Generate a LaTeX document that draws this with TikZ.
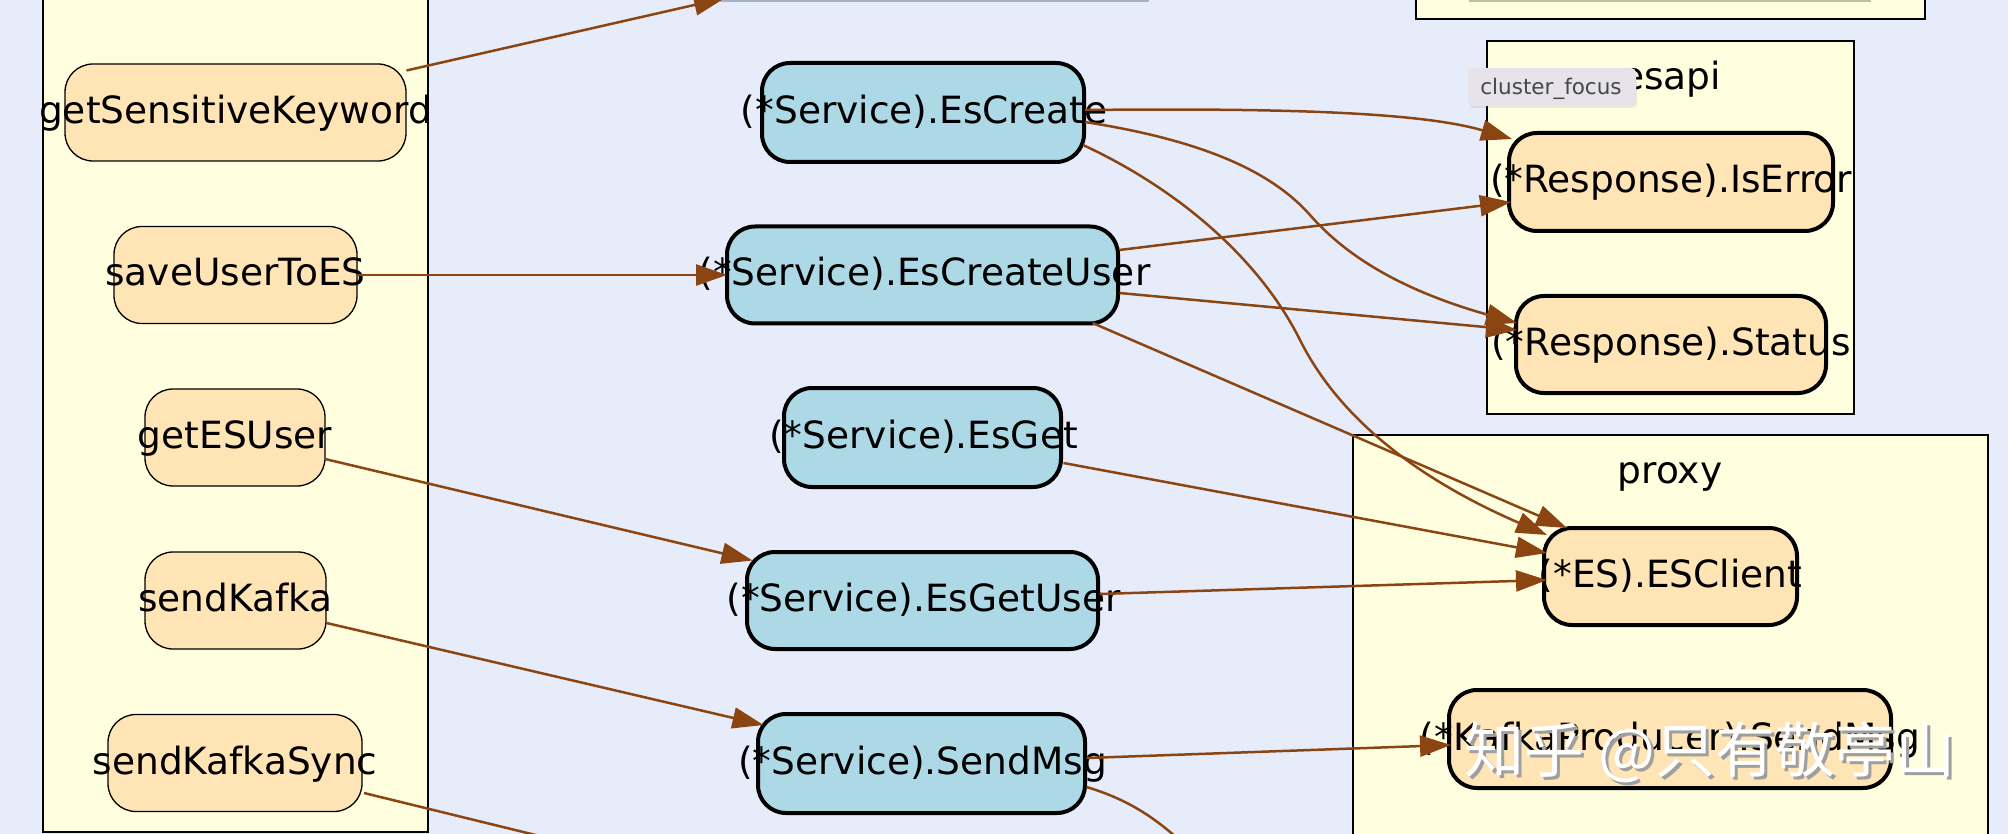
\documentclass[tikz,border=0pt]{standalone}
\usepackage{fontspec}
\setmainfont{DejaVu Sans}
\newfontfamily\cjk{Noto Sans CJK SC}
\usetikzlibrary{arrows.meta,calc,shadows}
\definecolor{bg}{HTML}{E6ECFA}
\definecolor{clfill}{HTML}{FFFFE0}
\definecolor{blfill}{HTML}{ADD8E6}
\definecolor{orfill}{HTML}{FFE4B5}
\definecolor{edgec}{HTML}{8B4513}
\definecolor{tipfill}{HTML}{E6E4EA}
\definecolor{tiptext}{HTML}{474747}
\definecolor{topline}{HTML}{A9B0BF}
\definecolor{innerline}{HTML}{BFBFA8}
\begin{document}
\begin{tikzpicture}[x=1pt,y=-1pt,
  cluster/.style={draw=black,line width=2pt,fill=clfill},
  fnode/.style={draw=black,rounded corners=28pt,minimum height=97pt,inner sep=0pt,outer sep=0pt},
  thinnode/.style={fnode,line width=1.3pt,fill=orfill},
  bluenode/.style={fnode,line width=4pt,fill=blfill},
  extnode/.style={fnode,line width=4pt,fill=orfill},
  lbl/.style={anchor=base,inner sep=0pt,font=\fontsize{37.5}{40}\selectfont},
  edge/.style={draw=edgec,line width=2.5pt,-{Triangle[length=31pt,width=21pt]}},
  plainedge/.style={draw=edgec,line width=2.5pt}]
\useasboundingbox (0,0) rectangle (2008,834);
\clip (0,0) rectangle (2008,834);
\fill[bg] (0,0) rectangle (2008,834);
% clusters
\draw[cluster] (43,-10) rectangle (428,832);
\draw[cluster] (1487,41) rectangle (1854,414);
\draw[cluster] (1353,435) rectangle (1988,850);
\draw[cluster] (1416,-10) rectangle (1925,19);
\draw[line width=2.5pt,draw=innerline] (1469,1) -- (1871,1);
\draw[line width=2.5pt,draw=topline] (720,1) -- (1149,1);
\node[lbl] (esapi-l) at (1671,90) {esapi};
\node[lbl] (proxy-l) at (1670,483) {proxy};
% left nodes
\node[thinnode,minimum width=341pt] (gsk) at (235.5,112.5) {};
\node[thinnode,minimum width=243pt] (sute) at (235.5,275) {};
\node[thinnode,minimum width=180pt] (geu) at (235,437.5) {};
\node[thinnode,minimum width=181pt] (skf) at (235.5,600.5) {};
\node[thinnode,minimum width=254pt] (sks) at (235,763) {};
% middle nodes
\node[bluenode,minimum width=322pt,minimum height=99pt] (esc) at (923,112.5) {};
\node[bluenode,minimum width=391pt] (escu) at (922.5,275) {};
\node[bluenode,minimum width=277pt,minimum height=99pt] (esg) at (922.5,437.5) {};
\node[bluenode,minimum width=351pt] (egu) at (922.5,600.5) {};
\node[bluenode,minimum width=327pt,minimum height=99pt] (smsg) at (921.5,763.5) {};
% right nodes
\node[extnode,minimum width=324pt,minimum height=98pt] (iserr) at (1671,182) {};
\node[extnode,minimum width=310pt] (status) at (1671,344.5) {};
\node[extnode,minimum width=253pt] (escl) at (1670.5,576.5) {};
\node[extnode,minimum width=442pt,minimum height=98pt] (kpsm) at (1670,739) {};
% labels
\node[lbl] (gsk-t) at ($(gsk.center)+(0,11)$) {getSensitiveKeyword};
\node[lbl] (sute-t) at ($(sute.center)+(0,11)$) {saveUserToES};
\node[lbl] (geu-t) at ($(geu.center)+(0,11)$) {getESUser};
\node[lbl] (skf-t) at ($(skf.center)+(0,11)$) {sendKafka};
\node[lbl] (sks-t) at ($(sks.center)+(0,11)$) {sendKafkaSync};
\node[lbl] (esc-t) at ($(esc.center)+(1,11)$) {(*Service).EsCreate};
\node[lbl] (escu-t) at ($(escu.center)+(2,11)$) {(*Service).EsCreateUser};
\node[lbl] (esg-t) at ($(esg.center)+(1,11)$) {(*Service).EsGet};
\node[lbl] (egu-t) at ($(egu.center)+(1,11)$) {(*Service).EsGetUser};
\node[lbl] (smsg-t) at ($(smsg.center)+(1,11)$) {(*Service).SendMsg};
\node[lbl] (iserr-t) at ($(iserr.center)+(0,11)$) {(*Response).IsError};
\node[lbl] (status-t) at ($(status.center)+(0,11)$) {(*Response).Status};
\node[lbl] (escl-t) at ($(escl.center)+(0,11)$) {(*ES).ESClient};
\node[lbl] (kpsm-t) at ($(kpsm.center)+(0,11)$) {(*KafkaProducer).SendMsg};
% edges
\coordinate (topin) at (725,-2);
\coordinate (botl) at (560,841);
\coordinate (endb) at (1195,855);
\draw[edge] ($(gsk.center)+(171,-42)$) -- (topin);
\draw[edge] (sute.east) -- (escu.west);
\draw[edge] ($(geu.center)+(90,21.5)$) -- ($(egu.center)+(-170,-40)$);
\draw[edge] ($(skf.center)+(91,22.5)$) -- ($(smsg.center)+(-158,-38.5)$);
\draw[plainedge] ($(sks.center)+(129,30)$) -- (botl);
\draw[edge] ($(esc.center)+(162,-2.5)$) .. controls (1280,108) and (1420,112) .. ($(iserr.center)+(-159,-43)$);
\draw[edge] ($(esc.center)+(162,9.5)$) .. controls (1200,140) and (1270,170) .. (1310,215) .. controls (1345,255) and (1400,290) .. ($(status.center)+(-154,-21.5)$);
\draw[edge] ($(esc.center)+(160,32.5)$) .. controls (1180,190) and (1260,260) .. (1300,340) .. controls (1340,420) and (1420,480) .. ($(escl.center)+(-123.5,-41.5)$);
\draw[edge] ($(escu.center)+(197,-25)$) -- ($(iserr.center)+(-160,20)$);
\draw[edge] ($(escu.center)+(197,18)$) -- ($(status.center)+(-154,-14.5)$);
\draw[edge] ($(escu.center)+(170,48)$) -- ($(escl.center)+(-103.5,-48.5)$);
\draw[edge] ($(esg.center)+(141,25.5)$) -- ($(escl.center)+(-123.5,-23.5)$);
\draw[edge] ($(egu.center)+(177,-6.5)$) -- ($(escl.center)+(-123.5,3.5)$);
\draw[edge] ($(smsg.center)+(165,-5.5)$) -- ($(kpsm.center)+(-219,6)$);
\draw[plainedge] ($(smsg.center)+(165,23.5)$) .. controls (1130,800) and (1160,820) .. (endb);
% tooltip
\node[fill=tipfill,rounded corners=5pt,minimum width=168pt,minimum height=38pt,inner sep=0pt,
  drop shadow={opacity=0.15,shadow xshift=1pt,shadow yshift=-2pt}] (tip) at (1552,87) {};
\node[anchor=base,inner sep=0pt,text=tiptext,font=\fontsize{21.5}{24}\selectfont] (tip-t) at (1551,95) {cluster\_focus};
% watermark
\node[inner sep=0pt,text=gray!75,font=\cjk\fontsize{60}{64}\selectfont] (wm-s) at (1713,755) {知乎 @只有敬亭山};
\node[inner sep=0pt,text=white,font=\cjk\fontsize{60}{64}\selectfont] (wm) at (1710,752) {知乎 @只有敬亭山};
\end{tikzpicture}
\end{document}
